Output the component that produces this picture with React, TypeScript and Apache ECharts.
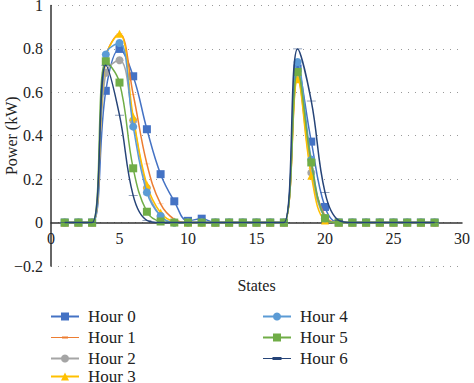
import React, { useEffect, useRef } from "react";
import * as echarts from "echarts";

const states = [1, 2, 3, 4, 5, 6, 7, 8, 9, 10, 11, 12, 13, 14, 15, 16, 17, 18, 19, 20, 21, 22, 23, 24, 25, 26, 27, 28];

const seriesNames = ["Hour 0", "Hour 1", "Hour 2", "Hour 3", "Hour 4", "Hour 5", "Hour 6"];

const hour0 = [0, 0, 0, 0.607, 0.8, 0.674, 0.43, 0.223, 0.098, 0.008, 0.018, 0, 0, 0, 0, 0, 0, 0.71, 0.373, 0.072, 0, 0, 0, 0, 0, 0, 0, 0];
const hour1 = [0, 0, 0, 0.76, 0.87, 0.59, 0.27, 0.086, 0.015, 0, 0, 0, 0, 0, 0, 0, 0, 0.68, 0.25, 0.03, 0, 0, 0, 0, 0, 0, 0, 0];
const hour2 = [0, 0, 0, 0.69, 0.748, 0.47, 0.16, 0.03, 0, 0, 0, 0, 0, 0, 0, 0, 0, 0.67, 0.23, 0.02, 0, 0, 0, 0, 0, 0, 0, 0];
const hour3 = [0, 0, 0, 0.76, 0.87, 0.488, 0.174, 0.045, 0.005, 0, 0, 0, 0, 0, 0, 0, 0, 0.66, 0.216, 0.01, 0, 0, 0, 0, 0, 0, 0, 0];
const hour4 = [0, 0, 0, 0.774, 0.827, 0.442, 0.139, 0.03, 0, 0, 0, 0, 0, 0, 0, 0, 0, 0.74, 0.29, 0.02, 0, 0, 0, 0, 0, 0, 0, 0];
const hour5 = [0, 0, 0, 0.743, 0.645, 0.25, 0.05, 0.005, 0, 0, 0, 0, 0, 0, 0, 0, 0, 0.694, 0.277, 0.02, 0, 0, 0, 0, 0, 0, 0, 0];
const hour6 = [0, 0, 0, 0.725, 0.495, 0.124, 0.01, 0, 0, 0, 0, 0, 0, 0, 0, 0, 0, 0.8, 0.56, 0.139, 0.01, 0, 0, 0, 0, 0, 0, 0];

const allValues = [hour0, hour1, hour2, hour3, hour4, hour5, hour6];

const colors = ["#4472C4", "#ED7D31", "#A5A5A5", "#FFC000", "#5B9BD5", "#70AD47", "#264478"];
const DASH = "path://M0,0H10V2H0Z";
const symbols = ["rect", DASH, "circle", "triangle", "circle", "rect", DASH];
const symbolSizes: any[] = [8, [6, 1.5], 8, 8, 8, 8, [9, 2.5]];

const FONT = "'Times New Roman', Times, 'Liberation Serif', 'DejaVu Serif', serif";

export default function App() {
  const ref = useRef<HTMLDivElement>(null);
  useEffect(() => {
    if (!ref.current) return;
    const chart = echarts.init(ref.current, null, { renderer: "svg" });
    const series = allValues.map((vals, i) => ({
      name: seriesNames[i],
      type: "line",
      data: states.map((s, j) => [s, vals[j]]),
      smooth: 0.4,
      symbol: symbols[i],
      symbolSize: symbolSizes[i],
      symbolKeepAspect: true,
      showAllSymbol: true,
      lineStyle: { color: colors[i], width: 1.5 },
      itemStyle: { color: colors[i] },
      z: 2 + i,
    }));
    const dashIcon = (w: number) =>
      "path://M0,0M28,10M0,4.4H28V5.6H0Z" + `M${14 - w / 2},${w > 6 ? 3.6 : 4.1}H${14 + w / 2}V${w > 6 ? 6.4 : 5.9}H${14 - w / 2}Z`;
    const legendItem = (name: string) => {
      if (name === "Hour 1") return { name, icon: dashIcon(6) };
      if (name === "Hour 6") return { name, icon: dashIcon(9) };
      return { name };
    };
    const legendCommon = {
      orient: "vertical",
      padding: 0,
      itemGap: 4,
      itemWidth: 28,
      itemHeight: 10,
      textStyle: { fontFamily: FONT, fontSize: 17, color: "#222", padding: [0, 0, 0, 4] },
    };
    const gridTop = 5.5;
    const gridBottom = 117;
    const gridHeight = 383 - gridTop - gridBottom;
    const yMin = -0.2;
    const yMax = 1;
    const zeroOffset = -gridHeight * ((0 - yMin) / (yMax - yMin));
    chart.setOption({
      animation: false,
      backgroundColor: "#ffffff",
      textStyle: { fontFamily: FONT },
      grid: { left: 51, right: 12, top: gridTop, bottom: gridBottom, containLabel: false, outerBoundsMode: "none" },
      xAxis: {
        type: "value",
        min: 0,
        max: 30,
        interval: 5,
        offset: zeroOffset,
        name: "States",
        nameLocation: "middle",
        nameGap: 55,
        nameMoveOverlap: false,
        nameTextStyle: { fontFamily: FONT, fontSize: 16, color: "#222" },
        axisLine: { onZero: false, lineStyle: { color: "#333", width: 1.5 } },
        axisTick: { show: false },
        axisLabel: { fontFamily: FONT, fontSize: 16, color: "#222", margin: 8 },
        splitLine: { show: false },
      },
      yAxis: {
        type: "value",
        min: yMin,
        max: yMax,
        interval: 0.2,
        name: "Power (kW)",
        nameLocation: "middle",
        nameGap: 32,
        nameMoveOverlap: false,
        nameTextStyle: { fontFamily: FONT, fontSize: 16, color: "#222" },
        axisLine: { show: true, onZero: false, lineStyle: { color: "#333", width: 1.5 } },
        axisTick: { show: false },
        axisLabel: {
          fontFamily: FONT,
          fontSize: 16,
          color: "#222",
          margin: 8,
          formatter: (v: number) => {
            const r = Math.round(v * 10) / 10;
            return r < 0 ? "\u2212" + String(-r) : String(r);
          },
        },
        splitLine: { show: true, lineStyle: { color: "#999", type: [1, 6], width: 1 } },
      },
      legend: [
        { ...legendCommon, data: seriesNames.slice(0, 3).map(legendItem), left: 50, top: 308 },
        { ...legendCommon, data: [legendItem(seriesNames[3])], left: 50, top: 368 },
        { ...legendCommon, data: seriesNames.slice(4).map(legendItem), left: 262, top: 308 },
      ],
      series,
    });
    return () => chart.dispose();
  }, []);
  return <div ref={ref} style={{ width: 474, height: 383, position: "absolute", left: 0, top: 0 }} />;
}
